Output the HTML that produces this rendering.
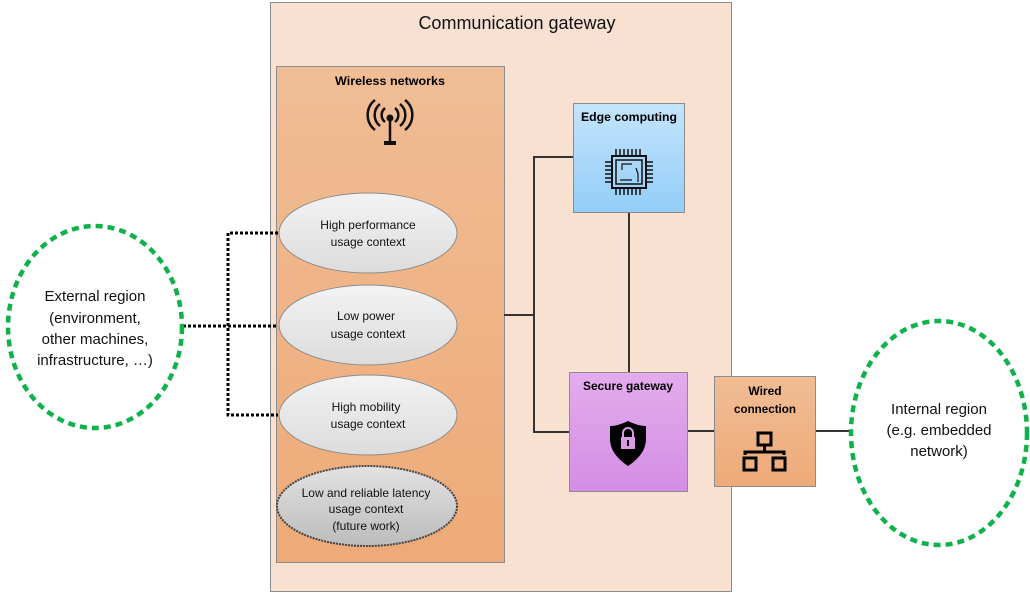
<!DOCTYPE html>
<html><head><meta charset="utf-8"><style>
html,body{margin:0;padding:0;background:#fff;}
svg{display:block;font-family:"Liberation Sans",sans-serif;}
</style></head><body>
<svg width="1030" height="594" viewBox="0 0 1030 594" xmlns="http://www.w3.org/2000/svg">
<defs>
<linearGradient id="gw" x1="0" y1="0" x2="0" y2="1"><stop offset="0" stop-color="#f0bd95"/><stop offset="1" stop-color="#eeaa78"/></linearGradient>
<linearGradient id="ge" x1="0" y1="0" x2="0" y2="1"><stop offset="0" stop-color="#c4e4fb"/><stop offset="1" stop-color="#93cdf8"/></linearGradient>
<linearGradient id="gs" x1="0" y1="0" x2="0" y2="1"><stop offset="0" stop-color="#e3aced"/><stop offset="1" stop-color="#d58de4"/></linearGradient>
<linearGradient id="gl" x1="0" y1="0" x2="0" y2="1"><stop offset="0" stop-color="#f3f3f3"/><stop offset="1" stop-color="#dcdcdc"/></linearGradient>
<linearGradient id="gg" x1="0" y1="0" x2="0" y2="1"><stop offset="0" stop-color="#e2e2e2"/><stop offset="1" stop-color="#bcbcbc"/></linearGradient>
</defs>
<rect x="270.5" y="2.5" width="461" height="589" fill="#f8e1d1" stroke="#8c8c8c"/>
<text x="517" y="29" font-size="18" text-anchor="middle" fill="#111">Communication gateway</text>
<rect x="276.5" y="66.5" width="228" height="496" fill="url(#gw)" stroke="#8c8c8c"/>
<text x="390" y="85" font-size="12" text-anchor="middle" fill="#000" font-weight="bold" textLength="110" lengthAdjust="spacingAndGlyphs">Wireless networks</text>
<!-- antenna -->
<g stroke="#111" stroke-width="2.5" fill="none">
<path d="M385 108 a9 9 0 0 0 0 14"/><path d="M395 108 a9 9 0 0 1 0 14"/>
<path d="M380 104 a14 14 0 0 0 0 22"/><path d="M400 104 a14 14 0 0 1 0 22"/>
<path d="M375 100 a19 19 0 0 0 0 30"/><path d="M405 100 a19 19 0 0 1 0 30"/>
<line x1="390" y1="118" x2="390" y2="142"/></g>
<circle cx="390" cy="118" r="3.5" fill="#111"/><rect x="384" y="141" width="12" height="4" fill="#111"/>
<!-- dashed connectors -->
<g stroke="#000" stroke-width="3" stroke-dasharray="3,2" fill="none">
<path d="M183 326 H278"/><path d="M278 233 H228 V415 H278"/></g>
<!-- ellipses -->
<ellipse cx="368" cy="233" rx="89" ry="40" fill="url(#gl)" stroke="#8c8c8c"/>
<ellipse cx="368" cy="325" rx="89" ry="40" fill="url(#gl)" stroke="#8c8c8c"/>
<ellipse cx="368" cy="415" rx="89" ry="40" fill="url(#gl)" stroke="#8c8c8c"/>
<ellipse cx="367" cy="506" rx="90" ry="40" fill="url(#gg)" stroke="#444" stroke-width="2" stroke-dasharray="2,1"/>
<g font-size="12" text-anchor="middle" fill="#111">
<text x="368" y="229">High performance</text><text x="368" y="246">usage context</text>
<text x="366" y="320">Low power</text><text x="368" y="338">usage context</text>
<text x="366" y="411">High mobility</text><text x="368" y="428">usage context</text>
<text x="366" y="497">Low and reliable latency</text><text x="366" y="513">usage context</text><text x="366" y="530">(future work)</text>
</g>
<!-- solid connectors -->
<g stroke="#333" stroke-width="2" fill="none">
<path d="M504 315 H534"/><path d="M573 157 H534 V432 H570"/>
<path d="M629 212 V372"/><path d="M687 431 H714"/><path d="M816 431 H852"/></g>
<!-- edge -->
<rect x="573.5" y="103.5" width="111" height="109" fill="url(#ge)" stroke="#8c8c8c"/>
<text x="629" y="121" font-size="12" text-anchor="middle" fill="#000" font-weight="bold" textLength="96" lengthAdjust="spacingAndGlyphs">Edge computing</text>
<g stroke="#111" stroke-width="2" fill="none">
<rect x="612" y="156" width="34" height="32"/><rect x="616" y="160" width="26" height="24" stroke-width="1.5"/>
<path d="M616 149v7M620 149v7M624 149v7M628 149v7M632 149v7M636 149v7M640 149v7M616 188v7M620 188v7M624 188v7M628 188v7M632 188v7M636 188v7M640 188v7M605 162h7M605 166h7M605 170h7M605 174h7M605 178h7M605 182h7M646 162h7M646 166h7M646 170h7M646 174h7M646 178h7M646 182h7" stroke-width="1.5"/>
<path d="M620 180h12M622 170v-6h10M636 168l2 6v8" stroke-width="1.2"/></g>
<!-- secure -->
<rect x="569.5" y="372.5" width="118" height="119" fill="url(#gs)" stroke="#8c8c8c"/>
<text x="628" y="390" font-size="12" text-anchor="middle" fill="#000" font-weight="bold" textLength="90" lengthAdjust="spacingAndGlyphs">Secure gateway</text>
<path d="M628 421 q-10 5 -18 5 v13 q0 15 18 27 q18 -12 18 -27 v-13 q-8 0 -18 -5z" fill="#000"/>
<rect x="621" y="437" width="14" height="12" fill="#d99ae6"/><path d="M623 437 v-4 a5 5 0 0 1 10 0 v4" stroke="#d99ae6" stroke-width="2" fill="none"/>
<rect x="627" y="440" width="2" height="6" fill="#000"/>
<!-- wired -->
<rect x="714.5" y="376.5" width="101" height="110" fill="url(#gw)" stroke="#8c8c8c"/>
<text x="765" y="395" font-size="12" text-anchor="middle" fill="#000" font-weight="bold">Wired</text>
<text x="765" y="413" font-size="12" text-anchor="middle" fill="#000" font-weight="bold" textLength="62" lengthAdjust="spacingAndGlyphs">connection</text>
<g stroke="#000" stroke-width="3" fill="none">
<rect x="758" y="433" width="13" height="12"/><path d="M764.5 445v8M745 455v-3h39v3"/>
<rect x="744" y="458" width="12" height="12"/><rect x="773" y="458" width="12" height="12"/></g>
<!-- regions -->
<ellipse cx="95" cy="327" rx="87" ry="101" fill="none" stroke="#0fb14b" stroke-width="4.5" stroke-dasharray="7,5"/>
<g font-size="15" text-anchor="middle" fill="#111">
<text x="95" y="301">External region</text><text x="95" y="323">(environment,</text>
<text x="95" y="344">other machines,</text><text x="95" y="365">infrastructure, …)</text>
<text x="939" y="414">Internal region</text><text x="939" y="435">(e.g. embedded</text><text x="939" y="456">network)</text></g>
<ellipse cx="939" cy="433" rx="88" ry="112" fill="none" stroke="#0fb14b" stroke-width="4.5" stroke-dasharray="7,5"/>
</svg>
</body></html>
